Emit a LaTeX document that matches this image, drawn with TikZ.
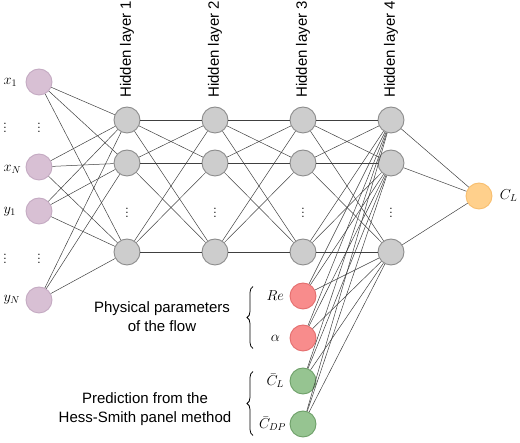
\documentclass[tikz,border=0pt]{standalone}
\usepackage{amsmath}
\usepackage{fontspec}
\setsansfont{Liberation Sans}
\usetikzlibrary{positioning, decorations.pathreplacing}

\definecolor{inputfill}{RGB}{216,192,212}
\definecolor{inputdraw}{RGB}{196,170,194}
\definecolor{hiddenfill}{RGB}{205,205,205}
\definecolor{hiddendraw}{RGB}{140,140,140}
\definecolor{outfill}{RGB}{255,208,140}
\definecolor{outdraw}{RGB}{248,190,110}
\definecolor{flowfill}{RGB}{248,140,140}
\definecolor{flowdraw}{RGB}{228,110,110}
\definecolor{hessfill}{RGB}{150,196,145}
\definecolor{hessdraw}{RGB}{110,160,105}

\begin{document}
\begin{tikzpicture}[x=1pt, y=-1pt, every node/.style={font=\fontsize{14}{16}\selectfont},
  neuron/.style={draw, circle, minimum size=26pt, inner sep=0pt, line width=0.9pt},
  link/.style={black!75, line width=0.5pt},
  dotsnode/.style={inner sep=0pt},
  brace/.style={decorate, decoration={brace, amplitude=6pt}, line width=0.8pt},
  layerlabel/.style={rotate=90, anchor=west, inner sep=1pt, font=\sffamily\fontsize{15}{17}\selectfont},
  sidetext/.style={align=center, font=\sffamily\fontsize{15}{19}\selectfont}]
\useasboundingbox (0,0) rectangle (520,443);

% Input layer
\node[neuron, fill=inputfill, draw=inputdraw] (x1) at (39,82) {};
\node[neuron, fill=inputfill, draw=inputdraw] (xN) at (39,167) {};
\node[neuron, fill=inputfill, draw=inputdraw] (y1) at (39,211) {};
\node[neuron, fill=inputfill, draw=inputdraw] (yN) at (39,300) {};
\node[dotsnode] at (39,125) {$\vdots$};
\node[dotsnode] at (39,256) {$\vdots$};
\node[anchor=west] (x1lab) at (0,82) {$x_1$};
\node[anchor=west] (xNlab) at (0,169) {$x_N$};
\node[anchor=west] (y1lab) at (0,212) {$y_1$};
\node[anchor=west] (yNlab) at (0,300) {$y_N$};
\node[dotsnode] at (5,125) {$\vdots$};
\node[dotsnode] at (5,256) {$\vdots$};

% Hidden layers
\foreach \l/\xpos in {1/127,2/215,3/303,4/391} {
  \node[neuron, fill=hiddenfill, draw=hiddendraw] (h\l1) at (\xpos,120) {};
  \node[neuron, fill=hiddenfill, draw=hiddendraw] (h\l2) at (\xpos,163) {};
  \node[neuron, fill=hiddenfill, draw=hiddendraw] (h\l3) at (\xpos,252) {};
  \node[dotsnode] at (\xpos,210) {$\vdots$};
}
\node[layerlabel] (hlab1) at (127,99) {Hidden layer 1};
\node[layerlabel] (hlab2) at (215,99) {Hidden layer 2};
\node[layerlabel] (hlab3) at (303,99) {Hidden layer 3};
\node[layerlabel] (hlab4) at (391,99) {Hidden layer 4};

% Physical parameters of the flow
\node[neuron, fill=flowfill, draw=flowdraw, label={[label distance=2pt]left:$Re$}] (re) at (303,296) {};
\node[neuron, fill=flowfill, draw=flowdraw, label={[label distance=6pt]left:$\alpha$}] (alpha) at (303,338) {};

% Hess-Smith prediction
\node[neuron, fill=hessfill, draw=hessdraw, label={[label distance=2pt]left:$\bar{C}_L$}] (cl) at (303,381) {};
\node[neuron, fill=hessfill, draw=hessdraw, label={[label distance=0pt]left:$\bar{C}_{DP}$}] (cdp) at (303,424) {};

% Output
\node[neuron, fill=outfill, draw=outdraw, label={[label distance=4pt]right:$C_L$}] (out) at (479,196) {};

% Connections
\foreach \i in {x1,xN,y1,yN}
  \foreach \j in {1,2,3}
    \draw[link] (\i) -- (h1\j);
\foreach \l/\m in {1/2,2/3,3/4}
  \foreach \i in {1,2,3}
    \foreach \j in {1,2,3}
      \draw[link] (h\l\i) -- (h\m\j);
\foreach \i in {re,alpha,cl,cdp}
  \foreach \j in {1,2,3}
    \draw[link] (\i) -- (h4\j);
\foreach \j in {1,2,3}
  \draw[link] (h4\j) -- (out);

% Braces and descriptions
\draw[brace] ([xshift=-50pt,yshift=3pt]alpha.south) -- ([xshift=-50pt,yshift=-4pt]re.north);
\draw[brace] ([xshift=-50pt,yshift=2pt]cdp.south) -- ([xshift=-50pt,yshift=-4pt]cl.north);
\node[sidetext] (flowtext) at (162,317) {Physical parameters\\of the flow};
\node[sidetext] (hesstext) at (145,409) {Prediction from the\\Hess-Smith panel method};
\end{tikzpicture}
\end{document}
